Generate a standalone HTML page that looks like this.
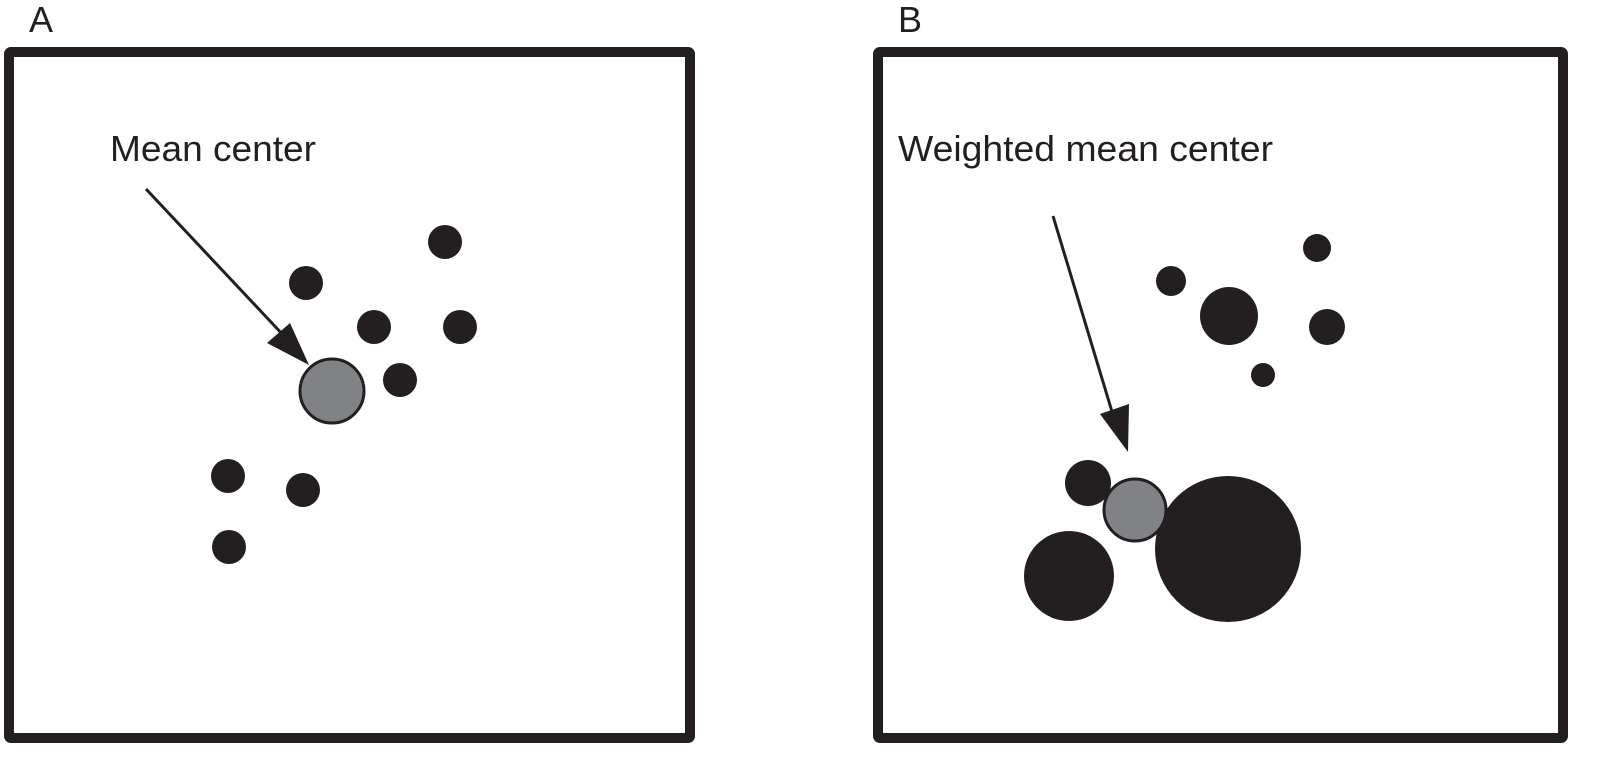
<!DOCTYPE html>
<html><head><style>html,body{margin:0;background:#fff;overflow:hidden;width:1604px;height:762px}svg{display:block}text{font-family:"Liberation Sans",sans-serif;fill:#231f20}</style></head>
<body>
<svg width="1604" height="762" viewBox="0 0 1604 762">
<text x="29" y="32" font-size="36" textLength="27">A</text>
<text x="898" y="32" font-size="36" textLength="22">B</text>
<rect x="9" y="52" width="681" height="686" fill="none" stroke="#231f20" stroke-width="10" rx="2"/>
<rect x="878" y="52" width="685" height="686" fill="none" stroke="#231f20" stroke-width="10" rx="2"/>
<text x="110" y="161" font-size="36" textLength="206" lengthAdjust="spacingAndGlyphs">Mean center</text>
<text x="898" y="161" font-size="36" textLength="375" lengthAdjust="spacingAndGlyphs">Weighted mean center</text>
<g fill="#231f20">
<circle cx="306" cy="283" r="17"/><circle cx="445" cy="242" r="17"/><circle cx="374" cy="327" r="17"/>
<circle cx="460" cy="327" r="17"/><circle cx="400" cy="380" r="17"/><circle cx="228" cy="476" r="17"/>
<circle cx="303" cy="490" r="17"/><circle cx="229" cy="547" r="17"/>
<circle cx="1171" cy="281" r="15"/><circle cx="1317" cy="248" r="14"/><circle cx="1229" cy="316" r="29"/>
<circle cx="1327" cy="327" r="18"/><circle cx="1263" cy="375" r="12"/><circle cx="1088" cy="483" r="23"/>
<circle cx="1069" cy="576" r="45"/><circle cx="1228" cy="549" r="73"/>
<polygon points="309,365 267,343 290,323"/>
<polygon points="1128,452 1100,414 1129,404"/>
</g>
<line x1="146" y1="189" x2="285" y2="337" stroke="#231f20" stroke-width="3"/>
<line x1="1053" y1="216" x2="1113" y2="415" stroke="#231f20" stroke-width="3"/>
<circle cx="332" cy="391" r="32" fill="#808285" stroke="#231f20" stroke-width="3"/>
<circle cx="1135" cy="510" r="31" fill="#808285" stroke="#231f20" stroke-width="3"/>
</svg>
</body></html>
